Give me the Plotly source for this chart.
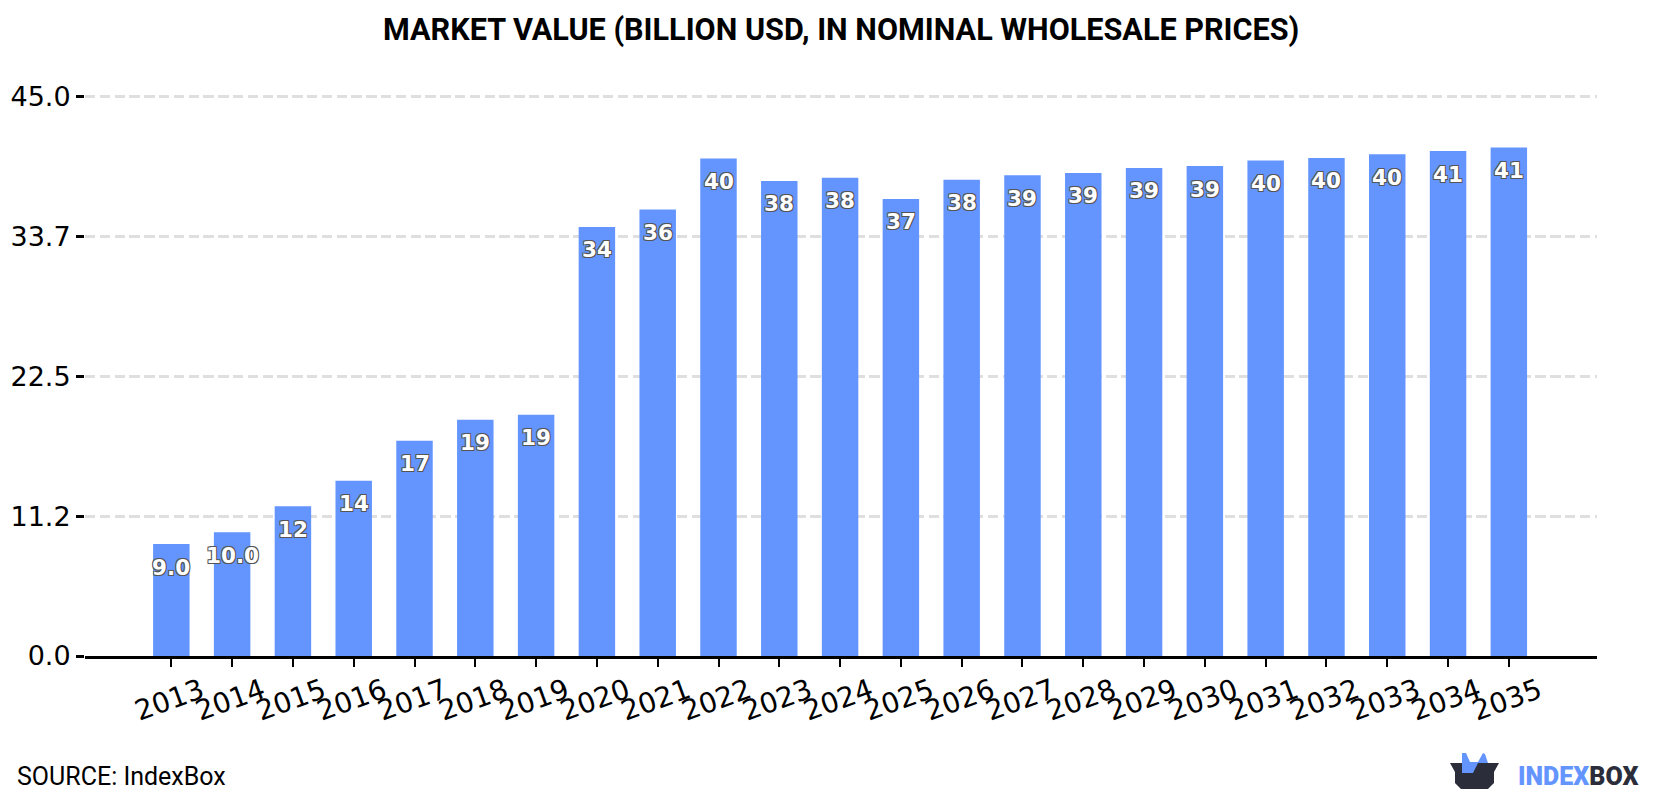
import plotly.graph_objects as go

years = [str(y) for y in range(2013, 2036)]
market_value = [9.0, 9.95, 12.05, 14.1, 17.3, 19.0, 19.4, 34.5, 35.9, 40.0, 38.2, 38.45,
                36.75, 38.3, 38.65, 38.85, 39.25, 39.4, 39.85, 40.05, 40.35, 40.6, 40.9]
bar_labels = ["9.0", "10.0", "12", "14", "17", "19", "19", "34", "36", "40", "38", "38",
              "37", "38", "39", "39", "39", "39", "40", "40", "40", "41", "41"]
y_ticks = [0, 11.25, 22.5, 33.75, 45]
y_tick_labels = ["0.0", "11.2", "22.5", "33.7", "45.0"]

WIDTH, HEIGHT = 1680, 800
LEFT, RIGHT, TOP, BOTTOM = 85, 83, 90, 144
BLUE = "#6495ff"
DARK = "#2b2d3a"
OUTLINE = ("-1px -1px 0 #555, 1px -1px 0 #555, -1px 1px 0 #555, 1px 1px 0 #555")
# Upper bound reaches a little past 45 so the top gridline is still drawn
Y_MAX = 45 * (HEIGHT - BOTTOM - TOP) / (HEIGHT - BOTTOM - 96.4)


def px_x(x):
    return (x - LEFT) / (WIDTH - LEFT - RIGHT)


def px_y(y):
    return (HEIGHT - BOTTOM - y) / (HEIGHT - TOP - BOTTOM)


def logo_path(points):
    return "M" + " L".join(f"{px_x(x):.5f},{px_y(y):.5f}" for x, y in points) + " Z"


fig = go.Figure(go.Bar(x=years, y=market_value, width=0.6, marker_color=BLUE,
                       marker_line_width=0, hoverinfo="x+y"))

# Category positions are given by index: numeric-looking strings would be read as indices anyway
for i, (value, label) in enumerate(zip(market_value, bar_labels)):
    fig.add_annotation(x=i, y=value, yshift=-23, text=label, showarrow=False,
                       font=dict(family="DejaVu Sans", size=21.5, color="white",
                                 weight="bold", shadow=OUTLINE))

# Brand block in the lower right corner: open box with a blue crown rising from it
box = [(1450, 763), (1499, 763), (1494, 772), (1494, 783), (1488, 789), (1461, 789),
       (1455, 783), (1455, 772)]
crown = [(1462, 753), (1466, 753), (1470, 762), (1478, 762), (1483, 753), (1485, 754),
         (1488, 763), (1478, 763), (1473, 773), (1462, 773)]
shapes = [
    dict(type="path", xref="paper", yref="paper", path=logo_path(box),
         fillcolor=DARK, line_width=0, layer="above"),
    dict(type="path", xref="paper", yref="paper", path=logo_path(crown),
         fillcolor=BLUE, line_width=0, layer="above"),
]

fig.add_annotation(xref="paper", yref="paper", x=0.5, xanchor="center", y=px_y(30), yanchor="middle",
                   text="<b>MARKET VALUE (BILLION USD, IN NOMINAL WHOLESALE PRICES)</b>",
                   showarrow=False, font=dict(family="Roboto", size=30.6, color="black"))
fig.add_annotation(xref="paper", yref="paper", x=px_x(15), xanchor="left", y=px_y(776), yanchor="middle",
                   text="SOURCE: IndexBox", showarrow=False,
                   font=dict(family="Roboto", size=25, color="black"))
fig.add_annotation(xref="paper", yref="paper", x=px_x(1516), xanchor="left", y=px_y(776), yanchor="middle",
                   text=f"<span style='color:{BLUE}'>INDEX</span><span style='color:{DARK}'>BOX</span>",
                   showarrow=False, font=dict(family="Roboto", size=25, weight=900))

fig.update_layout(
    width=WIDTH, height=HEIGHT, showlegend=False, bargap=0.4,
    margin=dict(l=LEFT, r=RIGHT, t=TOP, b=BOTTOM, pad=0),
    paper_bgcolor="white", plot_bgcolor="white", shapes=shapes,
    xaxis=dict(type="category", categoryorder="array", categoryarray=years,
               range=[-1.42, 23.45], tickangle=-20, ticks="outside", ticklen=8, tickwidth=2,
               tickcolor="black", showline=True, linecolor="black", linewidth=3,
               showgrid=False, zeroline=False, automargin=False, ticklabelshift=30,
               ticklabelstandoff=-3,
               tickfont=dict(family="DejaVu Sans", size=28, color="black")),
    yaxis=dict(range=[0, Y_MAX], tickmode="array", tickvals=y_ticks, ticktext=y_tick_labels,
               ticks="outside", ticklen=8, tickwidth=3, tickcolor="black",
               showline=False, zeroline=False, showgrid=True,
               gridcolor="#dfdfdf", gridwidth=2.5, griddash="10.4px,4.4px", automargin=False,
               tickfont=dict(family="DejaVu Sans", size=27, color="black")),
)

fig.write_html("out.html")
